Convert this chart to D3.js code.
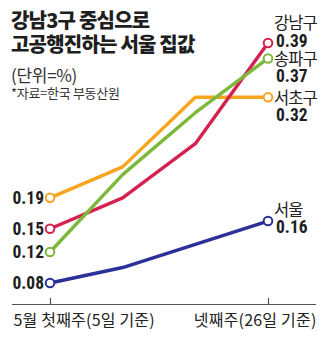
<!DOCTYPE html>
<html>
<head>
<meta charset="utf-8">
<script src="https://cdn.jsdelivr.net/npm/d3@7"></script>
<style>
  html, body { margin: 0; padding: 0; background: #fff; }
  svg { display: block; }
  .kr { font-family: "Noto Sans CJK KR", "Noto Sans", sans-serif; }
  .num { font-family: "Liberation Sans Narrow", "Roboto Condensed", "Liberation Sans", sans-serif; font-weight: bold; }
</style>
</head>
<body>
<svg id="chart" width="329" height="362"></svg>
<script>
// Weekly apartment price change, May (unit: %)
const weeks = ["5월 첫째주(5일 기준)", "둘째주", "셋째주", "넷째주(26일 기준)"];
const tickWeeks = ["5월 첫째주(5일 기준)", "넷째주(26일 기준)"];
const seriesNames = ["서초구", "송파구", "강남구", "서울"];
const seocho = [0.19, 0.23, 0.32, 0.32];
const songpa = [0.12, 0.22, 0.30, 0.37];
const gangnam = [0.15, 0.19, 0.26, 0.39];
const seoul = [0.08, 0.10, 0.13, 0.16];

const seriesValues = { "서초구": seocho, "송파구": songpa, "강남구": gangnam, "서울": seoul };

// styling / label layout
const colors = { "서초구": "#f8a51d", "송파구": "#7cb83a", "강남구": "#d4214f", "서울": "#2b2f98" };
// offsets of the end labels relative to the last point (name, value)
const endLabelOffset = {
  "강남구": { name: -14, value: 4 },
  "송파구": { name: 7, value: 24 },
  "서초구": { name: 7, value: 24 },
  "서울":   { name: -5, value: 12 }
};

const svg = d3.select("#chart");

const x = d3.scalePoint().domain(weeks).range([50, 268]);
const y = d3.scaleLinear().domain([0.08, 0.39]).range([283, 43]);

// Title block
const title = svg.append("g").attr("class", "kr");
title.append("text").attr("x", 11).attr("y", 28)
  .attr("font-size", 20).attr("font-weight", 900).attr("letter-spacing", -0.8)
  .attr("fill", "#1e1e1e").text("강남3구 중심으로");
title.append("text").attr("x", 11).attr("y", 52)
  .attr("font-size", 20).attr("font-weight", 900).attr("letter-spacing", -0.8)
  .attr("fill", "#1e1e1e").text("고공행진하는 서울 집값");
title.append("text").attr("x", 11).attr("y", 82)
  .attr("font-size", 17).attr("fill", "#333").attr("letter-spacing", -0.3).text("(단위=%)");
title.append("text").attr("x", 11).attr("y", 98)
  .attr("font-size", 13).attr("fill", "#333").attr("letter-spacing", -0.3).text("*자료=한국 부동산원");

// X axis
const axis = svg.append("g")
  .attr("transform", "translate(0,304)")
  .call(d3.axisBottom(x).tickValues(tickWeeks).tickSize(-6).tickSizeOuter(0));
axis.select(".domain").attr("d", "M12,0.5H316").attr("stroke", "#555").attr("stroke-width", 1.2);
axis.selectAll(".tick line").attr("stroke", "#555").attr("stroke-width", 1.2);
axis.selectAll(".tick text")
  .attr("class", "kr")
  .attr("font-family", "Noto Sans CJK KR")
  .attr("font-size", 16)
  .attr("letter-spacing", 0.2)
  .attr("fill", "#222")
  .attr("y", 8)
  .attr("dy", "0.9em")
  .attr("text-anchor", (d, i) => i === 0 ? "start" : "end")
  .attr("dx", (d, i) => i === 0 ? -37 : 48);

// Lines
const line = d3.line().x((d, i) => x(weeks[i])).y(d => y(d));
const lineOrder = ["서초구", "강남구", "송파구", "서울"];
lineOrder.forEach(name => {
  svg.append("path")
    .datum(seriesValues[name])
    .attr("d", line)
    .attr("fill", "none")
    .attr("stroke", colors[name])
    .attr("stroke-width", 3.4)
    .attr("stroke-linejoin", "round");
});

// End-point circles
lineOrder.forEach(name => {
  const vals = seriesValues[name];
  [0, vals.length - 1].forEach(i => {
    svg.append("circle")
      .attr("cx", x(weeks[i])).attr("cy", y(vals[i])).attr("r", 4.3)
      .attr("fill", "#fff").attr("stroke", colors[name]).attr("stroke-width", 2);
  });
});

// Start-value labels
seriesNames.forEach(name => {
  const v = seriesValues[name][0];
  svg.append("text")
    .attr("class", "num")
    .attr("x", x(weeks[0]) - 6).attr("y", y(v) + 6)
    .attr("text-anchor", "end").attr("font-size", 17.5).attr("fill", "#1e1e1e")
    .text(v.toFixed(2));
});

// End labels: name and value
seriesNames.forEach(name => {
  const vals = seriesValues[name];
  const v = vals[vals.length - 1];
  const cy = y(v);
  const off = endLabelOffset[name];
  svg.append("text")
    .attr("class", "kr")
    .attr("x", x(weeks[weeks.length - 1]) + 6).attr("y", cy + off.name)
    .attr("font-size", 16.5).attr("letter-spacing", -0.9).attr("fill", "#222")
    .text(name);
  svg.append("text")
    .attr("class", "num")
    .attr("x", x(weeks[weeks.length - 1]) + 8).attr("y", cy + off.value)
    .attr("font-size", 17.5).attr("fill", "#1e1e1e")
    .text(v.toFixed(2));
});
</script>
</body>
</html>
